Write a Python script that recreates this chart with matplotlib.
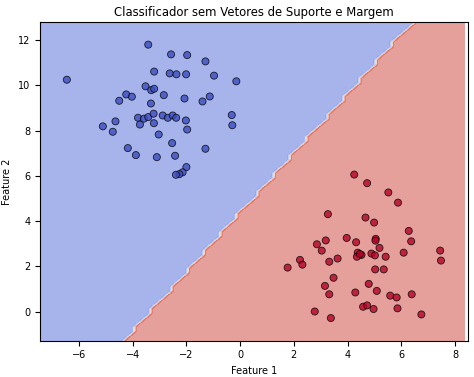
import matplotlib
matplotlib.use('Agg')
import matplotlib.pyplot as plt
import numpy as np

# class 0 (blue blob)
x0 = [-6.45, -3.42, -2.57, -1.97, -1.29, -3.20, -2.62, -2.37, -2.01, -0.97,
      -0.14, -3.52, -3.31, -3.20, -4.24, -4.03, -4.50, -2.84, -2.07, -1.40,
      -1.13, -3.32, -3.80, -3.58, -3.42, -3.22, -2.88, -2.69, -2.51, -2.38,
      -2.02, -0.31, -0.29, -4.64, -5.11, -4.74, -3.73, -3.21, -1.97, -3.03,
      -2.53, -4.18, -3.88, -3.10, -2.42, -1.29, -2.00, -2.14, -2.26, -2.39]
y0 = [10.25, 11.80, 11.37, 11.34, 11.06, 10.61, 10.53, 10.49, 10.49, 10.43,
      10.18, 9.96, 9.79, 9.85, 9.60, 9.50, 9.32, 9.57, 9.42, 9.29,
      9.51, 9.20, 8.57, 8.53, 8.60, 8.75, 8.67, 8.57, 8.67, 8.57,
      8.45, 8.69, 8.24, 8.41, 8.19, 7.95, 8.27, 8.33, 8.05, 7.83,
      7.45, 7.23, 6.92, 6.83, 6.89, 7.20, 6.39, 6.16, 6.08, 6.05]

# class 1 (red blob)
x1 = [4.25, 4.73, 5.52, 5.88, 3.27, 4.67, 4.99, 6.28, 6.37, 3.19,
      2.86, 3.04, 3.97, 4.32, 5.05, 5.04, 5.19, 6.09, 7.45, 7.48,
      2.23, 2.32, 1.77, 3.32, 3.63, 4.38, 4.52, 4.35, 4.89, 5.02,
      5.42, 5.03, 5.35, 3.48, 3.16, 3.32, 4.79, 5.09, 4.29, 5.59,
      5.83, 6.39, 4.58, 4.73, 4.97, 5.86, 6.75, 2.78, 3.38, 4.46]
y1 = [6.06, 5.68, 5.27, 4.82, 4.31, 4.16, 3.94, 3.57, 3.11, 3.15,
      2.98, 2.70, 3.26, 3.07, 3.22, 3.14, 2.82, 2.61, 2.70, 2.26,
      2.29, 2.08, 1.95, 2.21, 2.35, 2.61, 2.51, 2.43, 2.57, 2.49,
      2.43, 1.87, 1.87, 1.50, 1.14, 0.77, 1.23, 0.92, 0.85, 0.71,
      0.63, 0.77, 0.22, 0.28, 0.12, 0.15, -0.12, 0.01, -0.28, 2.55]

# linear decision boundary: y = slope * x + intercept
slope = 1.311
intercept = 4.39

X = np.column_stack([x0 + x1, y0 + y1])
labels = np.array([0] * len(x0) + [1] * len(x1))

# mesh for the decision regions
h = 0.2
x_min, x_max = X[:, 0].min() - 1, X[:, 0].max() + 1
y_min, y_max = X[:, 1].min() - 1, X[:, 1].max() + 1
xx, yy = np.meshgrid(np.arange(x_min, x_max, h), np.arange(y_min, y_max, h))
Z = (yy < slope * xx + intercept).astype(int)

plt.rcParams['font.size'] = 7
fig = plt.figure(figsize=(4.74, 3.77), dpi=100)
ax = fig.add_axes([0.0844, 0.0963, 0.9026, 0.8453])

ax.contourf(xx, yy, Z, cmap=plt.cm.coolwarm, alpha=0.5)
ax.scatter(X[:, 0], X[:, 1], c=labels, cmap=plt.cm.coolwarm, s=26,
           edgecolors='k', linewidths=0.6, alpha=0.8)

ax.set_xlim(x_min, x_max)
ax.set_ylim(y_min, y_max)
ax.set_xlabel('Feature 1')
ax.set_ylabel('Feature 2')
ax.set_title('Classificador sem Vetores de Suporte e Margem', fontsize=8.4, pad=4.5)

fig.savefig('out.png', dpi=100)
